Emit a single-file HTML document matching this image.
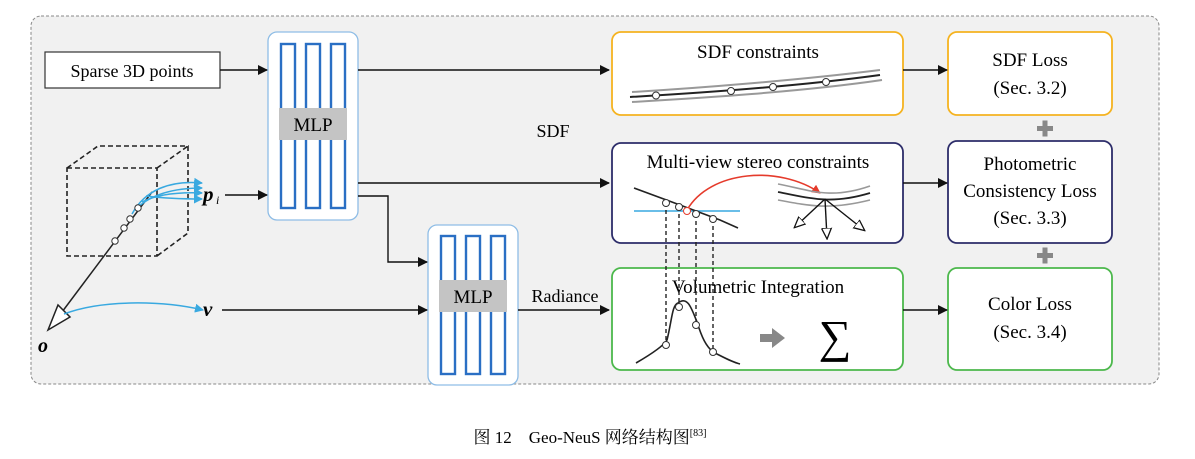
<!DOCTYPE html>
<html><head><meta charset="utf-8"><style>
body{margin:0;background:#fff;}
svg{display:block;font-family:"Liberation Serif","Noto Serif CJK SC",serif;}
</style></head><body>
<svg width="1195" height="459" viewBox="0 0 1195 459" xmlns="http://www.w3.org/2000/svg">
<defs>
<marker id="a" markerWidth="10" markerHeight="10" refX="9" refY="5" orient="auto" markerUnits="userSpaceOnUse"><path d="M0,0 L10,5 L0,10 z" fill="#111"/></marker>
<marker id="b" markerWidth="9" markerHeight="9" refX="8" refY="4.5" orient="auto" markerUnits="userSpaceOnUse"><path d="M0,0 L9,4.5 L0,9 z" fill="#39a9e0"/></marker>
<marker id="r" markerWidth="9" markerHeight="9" refX="8" refY="4.5" orient="auto" markerUnits="userSpaceOnUse"><path d="M0,0 L9,4.5 L0,9 z" fill="#e53b2c"/></marker>
<marker id="o" markerWidth="12" markerHeight="12" refX="10" refY="6" orient="auto" markerUnits="userSpaceOnUse"><path d="M0,1 L11,6 L0,11 z" fill="#fff" stroke="#111" stroke-width="1.3"/></marker>
</defs>
<rect x="31" y="16" width="1128" height="368" rx="10" fill="#f1f1f1" stroke="#888" stroke-width="1" stroke-dasharray="3,2"/>
<rect x="45" y="52" width="175" height="36" fill="#fff" stroke="#333" stroke-width="1.2"/>
<text x="132" y="77" font-size="18" text-anchor="middle">Sparse 3D points</text>
<rect x="268" y="32" width="90" height="188" rx="9" fill="#fff" stroke="#8fbde6" stroke-width="1.3"/>
<g fill="none" stroke="#2a6fc4" stroke-width="2.4"><rect x="281" y="44" width="14" height="164"/><rect x="306" y="44" width="14" height="164"/><rect x="331" y="44" width="14" height="164"/></g>
<rect x="279" y="108" width="68" height="32" fill="#c4c4c4"/>
<text x="313" y="131" font-size="19" text-anchor="middle">MLP</text>
<rect x="428" y="225" width="90" height="160" rx="9" fill="#fff" stroke="#8fbde6" stroke-width="1.3"/>
<g fill="none" stroke="#2a6fc4" stroke-width="2.4"><rect x="441" y="236" width="14" height="138"/><rect x="466" y="236" width="14" height="138"/><rect x="491" y="236" width="14" height="138"/></g>
<rect x="439" y="280" width="68" height="32" fill="#c4c4c4"/>
<text x="473" y="303" font-size="19" text-anchor="middle">MLP</text>
<rect x="612" y="32" width="291" height="83" rx="9" fill="#fff" stroke="#f5b320" stroke-width="1.8"/>
<text x="758" y="58" font-size="19" text-anchor="middle">SDF constraints</text>
<path d="M632,92 C700,88 800,80 880,70" fill="none" stroke="#999" stroke-width="2"/>
<path d="M632,102 C700,98 800,92 882,80" fill="none" stroke="#999" stroke-width="2"/>
<path d="M630,97 C700,93 800,86 880,75" fill="none" stroke="#222" stroke-width="2"/>
<g fill="#fff" stroke="#333"><circle cx="656" cy="95.5" r="3.5"/><circle cx="731" cy="91" r="3.5"/><circle cx="773" cy="87" r="3.5"/><circle cx="826" cy="82" r="3.5"/></g>
<rect x="612" y="143" width="291" height="100" rx="9" fill="#fff" stroke="#2d2d6a" stroke-width="1.8"/>
<text x="758" y="168" font-size="19" text-anchor="middle">Multi-view stereo constraints</text>
<rect x="612" y="268" width="291" height="102" rx="9" fill="#fff" stroke="#4cb84c" stroke-width="1.8"/>
<text x="758" y="293" font-size="19" text-anchor="middle">Volumetric Integration</text>
<line x1="634" y1="211" x2="740" y2="211" stroke="#39a9e0" stroke-width="1.6"/>
<path d="M634,188 L680,205 L720,220 L738,228" fill="none" stroke="#222" stroke-width="1.6"/>
<g stroke="#222" stroke-width="1.4" stroke-dasharray="4,3"><line x1="666" y1="203" x2="666" y2="345"/><line x1="679" y1="207" x2="679" y2="307"/><line x1="696" y1="214" x2="696" y2="325"/><line x1="713" y1="219" x2="713" y2="352"/></g>
<path d="M687,210 C710,170 780,165 820,193" fill="none" stroke="#e53b2c" stroke-width="1.6" marker-end="url(#r)"/>
<g fill="#fff" stroke="#333"><circle cx="666" cy="203" r="3.5"/><circle cx="679" cy="207" r="3.5"/><circle cx="696" cy="214" r="3.5"/><circle cx="713" cy="219" r="3.5"/></g>
<circle cx="687" cy="211" r="3.5" fill="#fff" stroke="#e53b2c"/>
<path d="M778,184 C810,190 830,200 870,186" fill="none" stroke="#999" stroke-width="1.6"/>
<path d="M778,200 C810,206 830,210 870,200" fill="none" stroke="#999" stroke-width="1.6"/>
<path d="M778,192 C810,198 830,205 870,193" fill="none" stroke="#222" stroke-width="1.8"/>
<g stroke="#111" stroke-width="1.4"><line x1="825" y1="199" x2="795" y2="227" marker-end="url(#o)"/><line x1="825" y1="199" x2="827" y2="238" marker-end="url(#o)"/><line x1="825" y1="199" x2="864" y2="230" marker-end="url(#o)"/></g>
<path d="M636,363 C655,352 664,345 667,340 C672,320 672,305 678,303 C688,295 692,310 697,322 C702,338 706,346 713,352 C725,358 732,362 740,364" fill="none" stroke="#222" stroke-width="1.6"/>
<g fill="#fff" stroke="#333"><circle cx="666" cy="345" r="3.5"/><circle cx="679" cy="307" r="3.5"/><circle cx="696" cy="325" r="3.5"/><circle cx="713" cy="352" r="3.5"/></g>
<path d="M760,334 L772,334 L772,328 L785,338 L772,348 L772,342 L760,342 z" fill="#888"/>
<text x="835" y="352" font-size="46" text-anchor="middle" font-family="Liberation Serif,serif">∑</text>
<rect x="948" y="32" width="164" height="83" rx="9" fill="#fff" stroke="#f5b320" stroke-width="1.8"/>
<text x="1030" y="66" font-size="19" text-anchor="middle">SDF Loss</text><text x="1030" y="94" font-size="19" text-anchor="middle">(Sec. 3.2)</text>
<rect x="948" y="141" width="164" height="102" rx="9" fill="#fff" stroke="#2d2d6a" stroke-width="1.8"/>
<text x="1030" y="170" font-size="19" text-anchor="middle">Photometric</text><text x="1030" y="197" font-size="19" text-anchor="middle">Consistency Loss</text><text x="1030" y="224" font-size="19" text-anchor="middle">(Sec. 3.3)</text>
<rect x="948" y="268" width="164" height="102" rx="9" fill="#fff" stroke="#4cb84c" stroke-width="1.8"/>
<text x="1030" y="310" font-size="19" text-anchor="middle">Color Loss</text><text x="1030" y="338" font-size="19" text-anchor="middle">(Sec. 3.4)</text>
<g fill="#888"><rect x="1037" y="126" width="16" height="5"/><rect x="1042.5" y="120.5" width="5" height="16"/><rect x="1037" y="253" width="16" height="5"/><rect x="1042.5" y="247.5" width="5" height="16"/></g>
<g stroke="#111" stroke-width="1.4" fill="none" marker-end="url(#a)">
<line x1="220" y1="70" x2="267" y2="70"/>
<line x1="358" y1="70" x2="609" y2="70"/>
<line x1="358" y1="183" x2="609" y2="183"/>
<polyline points="358,196 388,196 388,262 427,262"/>
<line x1="225" y1="195" x2="267" y2="195"/>
<line x1="222" y1="310" x2="427" y2="310"/>
<line x1="518" y1="310" x2="609" y2="310"/>
<line x1="903" y1="70" x2="947" y2="70"/>
<line x1="903" y1="183" x2="947" y2="183"/>
<line x1="903" y1="310" x2="947" y2="310"/>
</g>
<text x="553" y="137" font-size="18" text-anchor="middle">SDF</text>
<text x="565" y="302" font-size="18" text-anchor="middle">Radiance</text>
<g fill="none" stroke="#222" stroke-width="1.6" stroke-dasharray="5,3">
<rect x="67" y="168" width="90" height="88"/>
<polyline points="67,168 98,146 188,146 188,233 157,256"/>
<line x1="157" y1="168" x2="188" y2="146"/>
</g>
<line x1="62" y1="312" x2="152" y2="192" stroke="#222" stroke-width="1.5"/>
<path d="M48,330 L58,305 L70,317 z" fill="#fff" stroke="#222" stroke-width="1.5"/>
<g fill="none" stroke="#39a9e0" stroke-width="1.5" marker-end="url(#b)">
<path d="M132,214 C145,190 170,180 202,183"/>
<path d="M137,208 C152,194 175,188 202,188"/>
<path d="M142,202 C158,194 178,192 202,193"/>
<path d="M146,196 C162,198 180,199 202,199"/>
<path d="M64,314 C100,300 160,300 203,310"/>
</g>
<g fill="#fff" stroke="#333"><circle cx="115" cy="241" r="3.2"/><circle cx="124" cy="228" r="3.2"/><circle cx="130" cy="219" r="3.2"/><circle cx="138" cy="208" r="3.2"/></g>
<text x="203" y="201" font-size="21" font-style="italic" font-weight="bold">p</text><text x="216" y="204" font-size="12" font-style="italic">i</text>
<text x="203" y="316" font-size="21" font-style="italic" font-weight="bold">v</text>
<text x="38" y="352" font-size="20" font-style="italic" font-weight="bold">o</text>
<text x="590" y="443" font-size="17" text-anchor="middle">图 12　Geo-NeuS 网络结构图<tspan font-size="10" dy="-7">[83]</tspan></text>
</svg>
</body></html>
